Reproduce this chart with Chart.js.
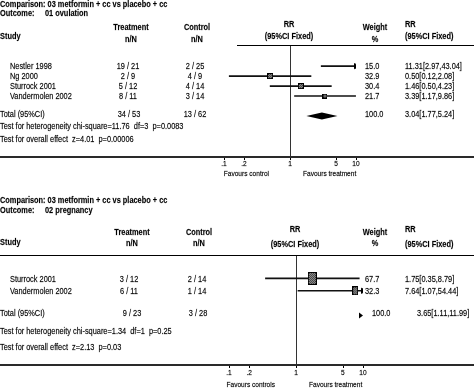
<!DOCTYPE html>
<html>
<head>
<meta charset="utf-8">
<script src="https://cdn.jsdelivr.net/npm/chart.js@4.4.0/dist/chart.umd.min.js"></script>
<style>
  body { margin: 0; background: #fff; }
  #wrap { position: relative; width: 474px; height: 389px; }
  canvas { position: absolute; left: 0; }
</style>
</head>
<body>
<div id="wrap">
  <canvas id="ovulation" width="474" height="190" style="top:0"></canvas>
  <canvas id="pregnancy" width="474" height="199" style="top:190px"></canvas>
</div>
<script>
// axis ticks (log scale, RR)
const tickValues = [0.1, 0.2, 1, 5, 10];
const tickLabels = ['.1', '.2', '1', '5', '10'];

// 01 ovulation
const ovStudies = ['Nestler 1998', 'Ng 2000', 'Sturrock 2001', 'Vandermolen 2002'];
const ovTreatEvents = [19, 2, 5, 8];
const ovTreatTotal = [21, 9, 12, 11];
const ovCtrlEvents = [2, 4, 4, 3];
const ovCtrlTotal = [25, 9, 14, 14];
const ovWeight = [15.0, 32.9, 30.4, 21.7];
const ovRR = [11.31, 0.50, 1.46, 3.39];
const ovLow = [2.97, 0.12, 0.50, 1.17];
const ovHigh = [43.04, 2.08, 4.23, 9.86];
const ovPooled = [3.04, 1.77, 5.24];      // rr, low, high
const ovPooledCounts = [34, 53, 13, 62];  // treat n/N, control n/N
const ovHetero = 'Test for heterogeneity chi-square=11.76  df=3  p=0.0083';
const ovEffect = 'Test for overall effect  z=4.01  p=0.00006';

// 02 pregnancy
const pgStudies = ['Sturrock 2001', 'Vandermolen 2002'];
const pgTreatEvents = [3, 6];
const pgTreatTotal = [12, 11];
const pgCtrlEvents = [2, 1];
const pgCtrlTotal = [14, 14];
const pgWeight = [67.7, 32.3];
const pgRR = [1.75, 7.64];
const pgLow = [0.35, 1.07];
const pgHigh = [8.79, 54.44];
const pgPooled = [3.65, 1.11, 11.99];
const pgPooledCounts = [9, 23, 3, 28];
const pgHetero = 'Test for heterogeneity chi-square=1.34  df=1  p=0.25';
const pgEffect = 'Test for overall effect  z=2.13  p=0.03';

const W = 474;
const X_MIN = 0.1, X_MAX = 10;
const SX = 0.82;
const FONT = '"Liberation Sans", Arial, sans-serif';

function txt(ctx, s, x, y, align, bold, size) {
  ctx.save();
  ctx.font = (bold ? 'bold ' : '') + (size || 9) + 'px ' + FONT;
  ctx.textBaseline = 'middle';
  ctx.textAlign = align || 'left';
  ctx.fillStyle = '#000';
  ctx.strokeStyle = 'rgba(0,0,0,0.5)';
  ctx.lineWidth = 0.3;
  ctx.translate(x, y);
  ctx.scale(SX, 1);
  ctx.fillText(s, 0, 0);
  ctx.strokeText(s, 0, 0);
  ctx.restore();
}

function boxImage(weight, aspect) {
  const w = Math.max(3, Math.round(Math.sqrt(weight) * 1.05));
  const h = Math.max(3, Math.round(w * aspect));
  const c = document.createElement('canvas');
  c.width = w; c.height = h;
  const g = c.getContext('2d');
  g.fillStyle = '#000'; g.fillRect(0, 0, w, h);
  g.fillStyle = '#a0a0a0'; g.fillRect(1, 1, w - 2, h - 2);
  g.fillStyle = '#333';
  for (let yy = 1; yy < h - 1; yy++)
    for (let xx = 1; xx < w - 1; xx++)
      if ((xx + yy) % 2 === 0) g.fillRect(xx, yy, 1, 1);
  return c;
}

const fmt = v => v.toFixed(2);

const panels = [
  {
    id: 'ovulation', comparison: 'Comparison: 03 metformin + cc vs placebo + cc', outcome: '01 ovulation',
    studies: ovStudies, te: ovTreatEvents, tt: ovTreatTotal, ce: ovCtrlEvents, ct: ovCtrlTotal,
    weight: ovWeight, rr: ovRR, low: ovLow, high: ovHigh, pooled: ovPooled, counts: ovPooledCounts,
    hetero: ovHetero, effect: ovEffect, favoursLeft: 'Favours control',
    pad: { left: 224, right: 118, top: 45, bottom: 33 }, yMax: 8, boxAspect: 1, lineFrom: 237,
    yTitle: 5, yOutcome: 14, yHead1: 28, yHead2: 40, yStudy: 37, yRR1: 25, yRR2: 37,
    xTreatHead: 131, xCtrlHead: 197, xWeightHead: 375, xRRText: 405, xWeight: 365,
    xTreat: 128, xCtrl: 195, xTotTreat: 129, xTotCtrl: 195, xTotWeight: 365, xTotRR: 405,
    testDy: [11, 24], totalDy: -1, rowDy: 0, tickDy: 7, favDy: 17, diamondH: 3.5
  },
  {
    id: 'pregnancy', comparison: 'Comparison: 03 metformin + cc vs placebo + cc', outcome: '02 pregnancy',
    studies: pgStudies, te: pgTreatEvents, tt: pgTreatTotal, ce: pgCtrlEvents, ct: pgCtrlTotal,
    weight: pgWeight, rr: pgRR, low: pgLow, high: pgHigh, pooled: pgPooled, counts: pgPooledCounts,
    hetero: pgHetero, effect: pgEffect, favoursLeft: 'Favours controls',
    pad: { left: 229, right: 111, top: 65, bottom: 24 }, yMax: 6.1, boxAspect: 1.45, lineFrom: 0,
    yTitle: 11, yOutcome: 21, yHead1: 43, yHead2: 54, yStudy: 53, yRR1: 40, yRR2: 55,
    xTreatHead: 132, xCtrlHead: 199, xWeightHead: 375, xRRText: 405, xWeight: 365,
    xTreat: 129, xCtrl: 197, xTotTreat: 132, xTotCtrl: 198, xTotWeight: 372, xTotRR: 417,
    testDy: [16, 32], totalDy: -2, rowDy: 1, tickDy: 8, favDy: 20, diamondH: 3
  }
];

function makeChart(p) {
  const rows = p.studies.map((s, i) => i);
  const totalRow = p.studies.length + 1;

  const forestPlugin = {
    id: 'forest',
    beforeDatasetsDraw(chart) {
      const ctx = chart.ctx, a = chart.chartArea;
      const x1 = Math.round(chart.scales.x.getPixelForValue(1));
      ctx.fillStyle = '#333';
      ctx.fillRect(x1, a.top, 1, a.bottom - a.top);
    },
    afterDatasetsDraw(chart) {
      const ctx = chart.ctx, a = chart.chartArea;
      const xs = chart.scales.x, ys = chart.scales.y;
      const x1 = xs.getPixelForValue(1);

      // rules
      ctx.fillStyle = '#000';
      ctx.fillRect(p.lineFrom, Math.round(a.top), W - p.lineFrom, 1);
      ctx.fillStyle = '#2a2a2a';
      ctx.fillRect(0, Math.round(a.bottom) - 1, W, 2);

      // pooled estimate
      const [prr, plo, phi] = p.pooled;
      const ty = ys.getPixelForValue(totalRow);
      ctx.fillStyle = '#000';
      ctx.beginPath();
      if (phi <= X_MAX) {
        const h = p.diamondH;
        ctx.moveTo(xs.getPixelForValue(plo), ty);
        ctx.lineTo(xs.getPixelForValue(prr), ty - h);
        ctx.lineTo(xs.getPixelForValue(phi), ty);
        ctx.lineTo(xs.getPixelForValue(prr), ty + h);
      } else {
        const tip = xs.getPixelForValue(X_MAX);
        ctx.moveTo(tip, ty);
        ctx.lineTo(tip - 4, ty - p.diamondH);
        ctx.lineTo(tip - 4, ty + p.diamondH);
      }
      ctx.closePath();
      ctx.fill();

      // axis ticks
      tickValues.forEach((v, i) => {
        const px = xs.getPixelForValue(v);
        ctx.fillStyle = '#000';
        ctx.fillRect(Math.round(px), Math.round(a.bottom) + 1, 1, 2);
        txt(ctx, tickLabels[i], px, a.bottom + p.tickDy, 'center', false, 8);
      });
      txt(ctx, p.favoursLeft, x1 - 21, a.bottom + p.favDy, 'right', false, 8);
      txt(ctx, 'Favours treatment', x1 + 13, a.bottom + p.favDy, 'left', false, 8);

      // titles and headers
      txt(ctx, p.comparison, 0, p.yTitle, 'left', true);
      txt(ctx, 'Outcome:', 0, p.yOutcome, 'left', true);
      txt(ctx, p.outcome, 45, p.yOutcome, 'left', true);
      txt(ctx, 'Study', 0, p.yStudy, 'left', true);
      txt(ctx, 'Treatment', p.xTreatHead, p.yHead1, 'center', true);
      txt(ctx, 'n/N', p.xTreatHead, p.yHead2, 'center', true);
      txt(ctx, 'Control', p.xCtrlHead, p.yHead1, 'center', true);
      txt(ctx, 'n/N', p.xCtrlHead, p.yHead2, 'center', true);
      txt(ctx, 'RR', x1 - 1, p.yRR1, 'center', true);
      txt(ctx, '(95%CI Fixed)', x1 - 1, p.yRR2, 'center', true);
      txt(ctx, 'Weight', p.xWeightHead, p.yHead1, 'center', true);
      txt(ctx, '%', p.xWeightHead, p.yHead2, 'center', true);
      txt(ctx, 'RR', p.xRRText, p.yRR1, 'left', true);
      txt(ctx, '(95%CI Fixed)', p.xRRText, p.yRR2, 'left', true);

      // study rows
      rows.forEach(i => {
        const ry = ys.getPixelForValue(i) + p.rowDy;
        txt(ctx, p.studies[i], 10, ry, 'left');
        txt(ctx, p.te[i] + ' / ' + p.tt[i], p.xTreat, ry, 'center');
        txt(ctx, p.ce[i] + ' / ' + p.ct[i], p.xCtrl, ry, 'center');
        txt(ctx, p.weight[i].toFixed(1), p.xWeight, ry, 'left');
        txt(ctx, fmt(p.rr[i]) + '[' + fmt(p.low[i]) + ',' + fmt(p.high[i]) + ']', p.xRRText, ry, 'left');
      });

      // total row and tests
      const tty = ty + p.totalDy;
      txt(ctx, 'Total (95%CI)', 0, tty, 'left');
      txt(ctx, p.counts[0] + ' / ' + p.counts[1], p.xTotTreat, tty, 'center');
      txt(ctx, p.counts[2] + ' / ' + p.counts[3], p.xTotCtrl, tty, 'center');
      txt(ctx, '100.0', p.xTotWeight, tty, 'left');
      txt(ctx, fmt(prr) + '[' + fmt(plo) + ',' + fmt(phi) + ']', p.xTotRR, tty, 'left');
      txt(ctx, p.hetero, 0, ty + p.testDy[0], 'left');
      txt(ctx, p.effect, 0, ty + p.testDy[1], 'left');
    }
  };

  return new Chart(document.getElementById(p.id), {
    type: 'bar',
    data: {
      datasets: [
        {
          type: 'bar', indexAxis: 'y', order: 3,
          data: rows.map(i => ({ y: i, x: [p.low[i], p.high[i]] })),
          backgroundColor: '#111', borderWidth: 0, barThickness: 1
        },
        {
          type: 'scatter', order: 2,
          data: rows.filter(i => p.high[i] > X_MAX).map(i => ({ x: X_MAX, y: i })),
          pointStyle: 'triangle', rotation: 90, pointRadius: 3,
          backgroundColor: '#000', borderColor: '#000', borderWidth: 1
        },
        {
          type: 'scatter', order: 1,
          data: rows.map(i => ({ x: p.rr[i], y: i })),
          pointStyle: rows.map(i => boxImage(p.weight[i], p.boxAspect)),
          pointRadius: 3
        }
      ]
    },
    options: {
      responsive: false,
      animation: false,
      events: [],
      layout: { padding: p.pad },
      plugins: { legend: { display: false }, tooltip: { enabled: false } },
      scales: {
        x: { type: 'logarithmic', min: X_MIN, max: X_MAX, bounds: 'data', display: false },
        y: { type: 'linear', reverse: true, min: -1, max: p.yMax, display: false }
      }
    },
    plugins: [forestPlugin]
  });
}

panels.forEach(makeChart);
</script>
</body>
</html>
